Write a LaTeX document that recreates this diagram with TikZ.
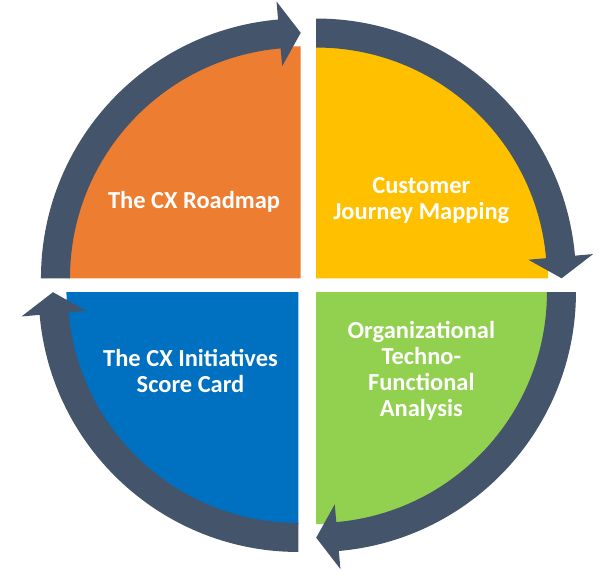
\documentclass[tikz,border=0pt]{standalone}
\usepackage{fontspec}
\setmainfont{Carlito}
\usetikzlibrary{calc}
\definecolor{cor}{HTML}{ED7D31}
\definecolor{cye}{HTML}{FFC000}
\definecolor{cgr}{HTML}{92D050}
\definecolor{cbl}{HTML}{0070C0}
\definecolor{car}{HTML}{44546A}
\tikzset{lbl/.style={text=white,font=\fontsize{18}{19}\selectfont\bfseries,align=center}}
\newcommand{\ringarrow}[2]{%
 \fill[car] (#1:672) arc[start angle=#1,end angle=#1-85,radius=672] -- (#1-85:719) -- (#1-90:635) -- (#1-85:551) -- (#1-85:597) arc[start angle=#1-85,end angle=#1,radius=597] -- cycle;}
\begin{document}
\begin{tikzpicture}[x=0.01cm,y=0.01cm]
\useasboundingbox (0,0) rectangle (1560,1516);
\fill[white] (0,0) rectangle (1560,1516);
\begin{scope}[shift={(778,796)}]
 \fill[cor] (0,0) -- (180:600) arc[start angle=180,end angle=90,radius=600] -- cycle;
 \ringarrow{180}{}
\end{scope}
\begin{scope}[shift={(818,796)}]
 \fill[cye] (0,0) -- (90:600) arc[start angle=90,end angle=0,radius=600] -- cycle;
 \ringarrow{90}{}
\end{scope}
\begin{scope}[shift={(818,760)}]
 \fill[cgr] (0,0) -- (0:600) arc[start angle=0,end angle=-90,radius=600] -- cycle;
 \ringarrow{0}{}
\end{scope}
\begin{scope}[shift={(772,760)}]
 \fill[cbl] (0,0) -- (-90:600) arc[start angle=-90,end angle=-180,radius=600] -- cycle;
 \ringarrow{-90}{}
\end{scope}
\node[lbl] (a) at (502,994) {The CX Roadmap};
\node[lbl] (b) at (1090,998) {Customer\\Journey Mapping};
\node[lbl] (c) at (1090,557) {Organizational\\Techno-\\Functional\\Analysis};
\node[lbl] (d) at (493,557) {The CX Initiatives\\Score Card};
\end{tikzpicture}
\end{document}
